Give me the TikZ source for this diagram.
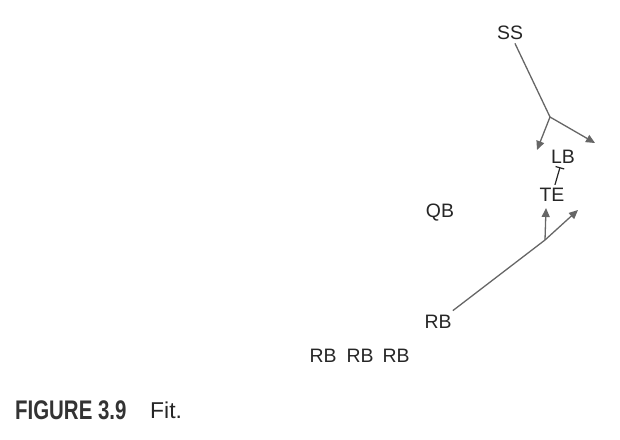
\documentclass[tikz,border=0pt]{standalone}
\usepackage{fontspec}
\setmainfont{Liberation Sans}
\usepackage{tikz}
\usetikzlibrary{arrows.meta,shapes}

\begin{document}
\begin{tikzpicture}[x=1bp,y=1bp]
\tikzset{player/.style={inner sep=0.5bp,outer sep=3bp,font=\fontsize{19.5}{21}\selectfont,text=black!85},
route/.style={draw=black!60,line width=1.3bp},
routearrow/.style={route,-{Triangle[length=9bp,width=8bp]}}}
\useasboundingbox (0,0) rectangle (620,-440);
\node (SS) at (510,-33)[player] {SS};
\node (LB) at (563,-157)[player] {LB};
\node (TE) at (552,-195)[player] {TE};
\node (QB) at (440,-213)[player] {QB};
\node (RB) at (438,-322)[player] {RB};
\node (RB1) at (323,-356)[player] {RB};
\node (RB2) at (360,-356)[player] {RB};
\node (RB3) at (396,-356)[player] {RB};
\coordinate (SSbr) at (550,-117);
\coordinate (SSa) at (537,-150);
\coordinate (SSb) at (595,-143);
\coordinate (RBbr) at (545,-240);
\coordinate (RBa) at (546,-208);
\coordinate (RBb) at (578,-210);
\draw [route] (SS) -- (SSbr);
\draw [routearrow] (SSbr) -- (SSa);
\draw [routearrow] (SSbr) -- (SSb);
\draw [route,shorten <=2bp] (RB) -- (RBbr);
\draw [routearrow] (RBbr) -- (RBa);
\draw [routearrow] (RBbr) -- (RBb);
\draw [line width=1.2bp,draw=black!85,-{Bar[width=9bp]},shorten >=0bp] (TE) -- (LB);
\node (fig) at (15,-410)[anchor=west,inner sep=0pt,xscale=0.76,font=\fontsize{27}{29}\selectfont\bfseries,text=black!80] {FIGURE 3.9};
\node (cap) at (150,-410)[anchor=west,inner sep=0pt,font=\fontsize{23}{25}\selectfont,text=black!85] {Fit.};
\end{tikzpicture}
\end{document}
